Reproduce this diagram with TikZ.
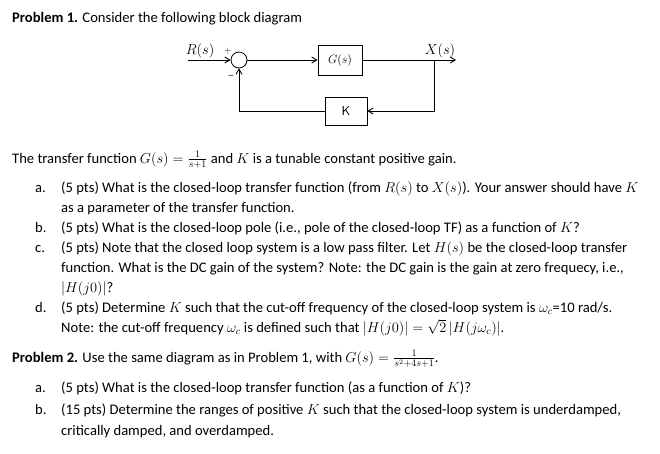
\documentclass[tikz,border=0pt]{standalone}
\usepackage{amsmath}
\usepackage{fontspec}
\setmainfont{Carlito}
\usetikzlibrary{arrows.meta}
\begin{document}
\begin{tikzpicture}[x=1pt,y=-1pt,
  txt/.style={anchor=base west,inner sep=0pt,font=\fontsize{14.6}{17}\selectfont},
  blk/.style={draw,line width=0.8pt,inner sep=0pt},
  sig/.style={line width=0.9pt,-{Straight Barb[length=5pt,width=6pt]}},
  wire/.style={line width=0.9pt}]
\useasboundingbox (0,0) rectangle (660,453);
% diagram
\node[circle,draw,line width=0.8pt,minimum size=16pt,inner sep=0pt] (sum) at (239,60) {};
\node[blk,minimum width=44pt,minimum height=30pt] (G) at (340,60) {\fontsize{13}{14}\selectfont$G(s)$};
\node[blk,minimum width=42pt,minimum height=28pt] (K) at (346,111) {\sffamily\fontsize{13}{14}\selectfont K};
\coordinate (in) at (188,60);
\coordinate (out) at (456,60);
\coordinate (split) at (434,60);
\draw[sig] (in) -- (sum);
\draw[sig] (sum) -- (G);
\draw[sig] (G) -- (out);
\draw[sig] (split) |- (K);
\draw[sig] (K) -| (sum);
\node[anchor=base,inner sep=0pt,font=\fontsize{14}{14}\selectfont] (rl) at (200,54) {$R(s)$};
\node[anchor=base,inner sep=0pt,font=\sffamily\fontsize{9}{10}\selectfont] (pl) at (228,53) {+};
\node[anchor=base,inner sep=0pt,font=\sffamily\fontsize{10}{10}\selectfont] (ml) at (231,78) {--};
\node[anchor=base,inner sep=0pt,font=\fontsize{14}{14}\selectfont] (xl) at (440,54) {$X(s)$};
% text
\node[txt] (t0) at (12,22) {\textbf{Problem 1.} Consider the following block diagram};
\node[txt] (t1) at (12,163) {The transfer function $G(s)=\frac{1}{s+1}$ and $K$ is a tunable constant positive gain.};
\node[txt] (a1) at (35,192) {a.};
\node[txt] (a1t) at (61,192) {(5 pts) What is the closed-loop transfer function (from $R(s)$ to $X(s)$). Your answer should have $K$};
\node[txt] (a1u) at (61,212) {as a parameter of the transfer function.};
\node[txt] (b1) at (35,232) {b.};
\node[txt] (b1t) at (61,232) {(5 pts) What is the closed-loop pole (i.e., pole of the closed-loop TF) as a function of $K$?};
\node[txt] (c1) at (35,252) {c.};
\node[txt] (c1t) at (61,252) {(5 pts) Note that the closed loop system is a low pass filter. Let $H(s)$ be the closed-loop transfer};
\node[txt] (c1u) at (61,272) {function. What is the DC gain of the system? Note: the DC gain is the gain at zero frequecy, i.e.,};
\node[txt] (c1v) at (61,292) {$|H(j0)|$?};
\node[txt] (d1) at (35,312) {d.};
\node[txt] (d1t) at (61,312) {(5 pts) Determine $K$ such that the cut-off frequency of the closed-loop system is $\omega_{c}$=10 rad/s.};
\node[txt] (d1u) at (61,332) {Note: the cut-off frequency $\omega_c$ is defined such that $|H(j0)|=\sqrt{2}\,|H(j\omega_c)|$.};
\node[txt] (t2) at (12,362) {\textbf{Problem 2.} Use the same diagram as in Problem 1, with $G(s)=\frac{1}{s^2+4s+1}$.};
\node[txt] (a2) at (35,392) {a.};
\node[txt] (a2t) at (61,392) {(5 pts) What is the closed-loop transfer function (as a function of $K$)?};
\node[txt] (b2) at (35,414) {b.};
\node[txt] (b2t) at (61,414) {(15 pts) Determine the ranges of positive $K$ such that the closed-loop system is underdamped,};
\node[txt] (b2u) at (61,435) {critically damped, and overdamped.};
\end{tikzpicture}
\end{document}
